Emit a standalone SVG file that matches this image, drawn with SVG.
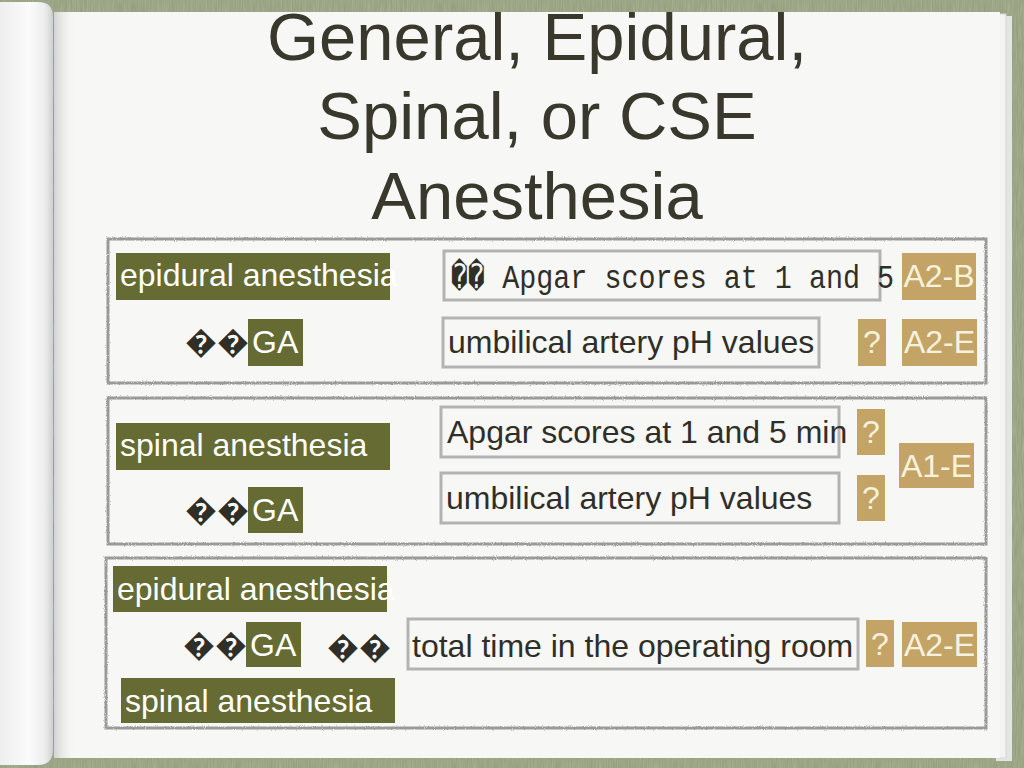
<svg xmlns="http://www.w3.org/2000/svg" width="1024" height="768" viewBox="0 0 1024 768">
<style>
.title{font-family:"Liberation Sans",Arial,sans-serif;font-size:67px;fill:#38382c;text-anchor:middle}
.lbl{font-family:"Liberation Sans",Arial,sans-serif;font-size:32px}
.wt{fill:#ffffff}
.dk{fill:#2f2f28}
.tan-t{fill:#f7f2de;text-anchor:middle}
.green{fill:#656b33}
.tan{fill:#c4a466}
.ibox{fill:none;stroke:#b3b3b3;stroke-width:3}
.panel{fill:none;stroke:#9a9a9a;stroke-width:3;filter:url(#rough)}
.mono{font-family:"Liberation Mono","DejaVu Sans Mono",monospace;font-size:28.4px;fill:#2f2f28}
</style>
<defs>
<filter id="rough" x="-2%" y="-5%" width="104%" height="110%">
<feTurbulence type="fractalNoise" baseFrequency="0.9" numOctaves="2" seed="3" result="n"/>
<feDisplacementMap in="SourceGraphic" in2="n" scale="2.5"/>
</filter>
<filter id="linen" x="0" y="0" width="100%" height="100%">
<feTurbulence type="fractalNoise" baseFrequency="0.8 0.05" numOctaves="2" seed="5" result="t"/>
<feColorMatrix in="t" type="matrix" values="0 0 0 0 0.55  0 0 0 0 0.6  0 0 0 0 0.46  0 0 0 0.5 0" result="c"/>
<feComposite in="c" in2="SourceGraphic" operator="in"/>
</filter>
<linearGradient id="curl" x1="0" y1="0" x2="1" y2="0">
<stop offset="0" stop-color="#eeeeee"/>
<stop offset="0.55" stop-color="#fbfbfb"/>
<stop offset="0.85" stop-color="#ececec"/>
<stop offset="1" stop-color="#cfcfcf"/>
</linearGradient>
<linearGradient id="shade" x1="0" y1="0" x2="1" y2="0">
<stop offset="0" stop-color="#d2d2d2"/>
<stop offset="1" stop-color="#f7f7f5" stop-opacity="0"/>
</linearGradient>
</defs>
<g id="background">
<rect x="0" y="0" width="1024" height="768" fill="#8f9a78"/>
<rect x="0" y="0" width="1024" height="768" fill="#8f9a78" filter="url(#linen)"/>
<rect x="996" y="16" width="16" height="745" fill="#e4e4e2"/>
<rect x="996" y="14" width="10" height="744" fill="#f3f3f1" stroke="#d6d6d6" stroke-width="1"/>
<rect x="54" y="12" width="946" height="746" fill="#f7f7f5"/>
<rect x="54" y="12" width="22" height="746" fill="url(#shade)"/>
<path d="M0 2 H38 Q53 2 53 17 V750 Q53 765 38 765 H0 Z" fill="url(#curl)"/>
</g>
<g id="title">
<text class="title" x="537" y="60">General, Epidural,</text>
<text class="title" x="537" y="139">Spinal, or CSE</text>
<text class="title" x="537" y="219">Anesthesia</text>
</g>
<g id="panels">
<rect id="panel1" class="panel" x="108" y="239" width="878" height="144"/>
<rect id="panel2" class="panel" x="108" y="398" width="878" height="146"/>
<rect id="panel3" class="panel" x="106" y="558" width="880" height="170"/>
</g>
<g id="connectors"></g>
<g id="p1-epidural">
<rect class="green" x="116" y="253" width="274" height="47"/>
<text class="lbl wt" x="120" y="286">epidural anesthesia</text>
</g>
<g id="p1-ga">
<text class="lbl dk" x="249" y="353" text-anchor="end">��</text>
<rect class="green" x="248" y="319" width="55" height="47"/>
<text class="lbl wt" x="252" y="353">GA</text>
</g>
<g id="p1-apgar">
<rect class="ibox" x="444" y="251" width="436" height="49"/>
<text class="mono" transform="translate(451 288) scale(1 1.2)" x="0" y="0">�� Apgar scores at 1 and 5</text>
</g>
<g id="p1-a2b">
<rect class="tan" x="902" y="253" width="74" height="47"/>
<text class="lbl tan-t" x="939" y="287">A2-B</text>
</g>
<g id="p1-umbilical">
<rect class="ibox" x="443" y="318" width="376" height="49"/>
<text class="lbl dk" x="448" y="353">umbilical artery pH values</text>
</g>
<g id="p1-q">
<rect class="tan" x="858" y="319" width="28" height="47"/>
<text class="lbl tan-t" x="872" y="353">?</text>
</g>
<g id="p1-a2e">
<rect class="tan" x="902" y="319" width="75" height="47"/>
<text class="lbl tan-t" x="939.5" y="353">A2-E</text>
</g>
<g id="p2-spinal">
<rect class="green" x="116" y="423" width="274" height="47"/>
<text class="lbl wt" x="120" y="456">spinal anesthesia</text>
</g>
<g id="p2-ga">
<text class="lbl dk" x="249" y="521" text-anchor="end">��</text>
<rect class="green" x="248" y="487" width="55" height="46"/>
<text class="lbl wt" x="252" y="521">GA</text>
</g>
<g id="p2-apgar">
<rect class="ibox" x="441" y="407" width="398" height="50"/>
<text class="lbl dk" x="447" y="443">Apgar scores at 1 and 5 min</text>
</g>
<g id="p2-umbilical">
<rect class="ibox" x="441" y="473" width="398" height="50"/>
<text class="lbl dk" x="446" y="509">umbilical artery pH values</text>
</g>
<g id="p2-q1">
<rect class="tan" x="857" y="409" width="28" height="46"/>
<text class="lbl tan-t" x="871" y="443">?</text>
</g>
<g id="p2-q2">
<rect class="tan" x="857" y="475" width="28" height="46"/>
<text class="lbl tan-t" x="871" y="509">?</text>
</g>
<g id="p2-a1e">
<rect class="tan" x="899" y="443" width="75" height="45"/>
<text class="lbl tan-t" x="936.5" y="477">A1-E</text>
</g>
<g id="p3-epidural">
<rect class="green" x="113" y="566" width="274" height="46"/>
<text class="lbl wt" x="117" y="600">epidural anesthesia</text>
</g>
<g id="p3-ga">
<text class="lbl dk" x="247" y="656" text-anchor="end">��</text>
<rect class="green" x="246" y="622" width="55" height="45"/>
<text class="lbl wt" x="250" y="656">GA</text>
</g>
<g id="p3-sep">
<text class="lbl dk" x="327" y="658">��</text>
</g>
<g id="p3-spinal">
<rect class="green" x="121" y="678" width="274" height="45"/>
<text class="lbl wt" x="125" y="712">spinal anesthesia</text>
</g>
<g id="p3-total">
<rect class="ibox" x="408" y="619" width="450" height="50"/>
<text class="lbl dk" x="412" y="657">total time in the operating room</text>
</g>
<g id="p3-q">
<rect class="tan" x="866" y="620" width="28" height="47"/>
<text class="lbl tan-t" x="880" y="655">?</text>
</g>
<g id="p3-a2e">
<rect class="tan" x="902" y="622" width="75" height="45"/>
<text class="lbl tan-t" x="939.5" y="656">A2-E</text>
</g>
</svg>
